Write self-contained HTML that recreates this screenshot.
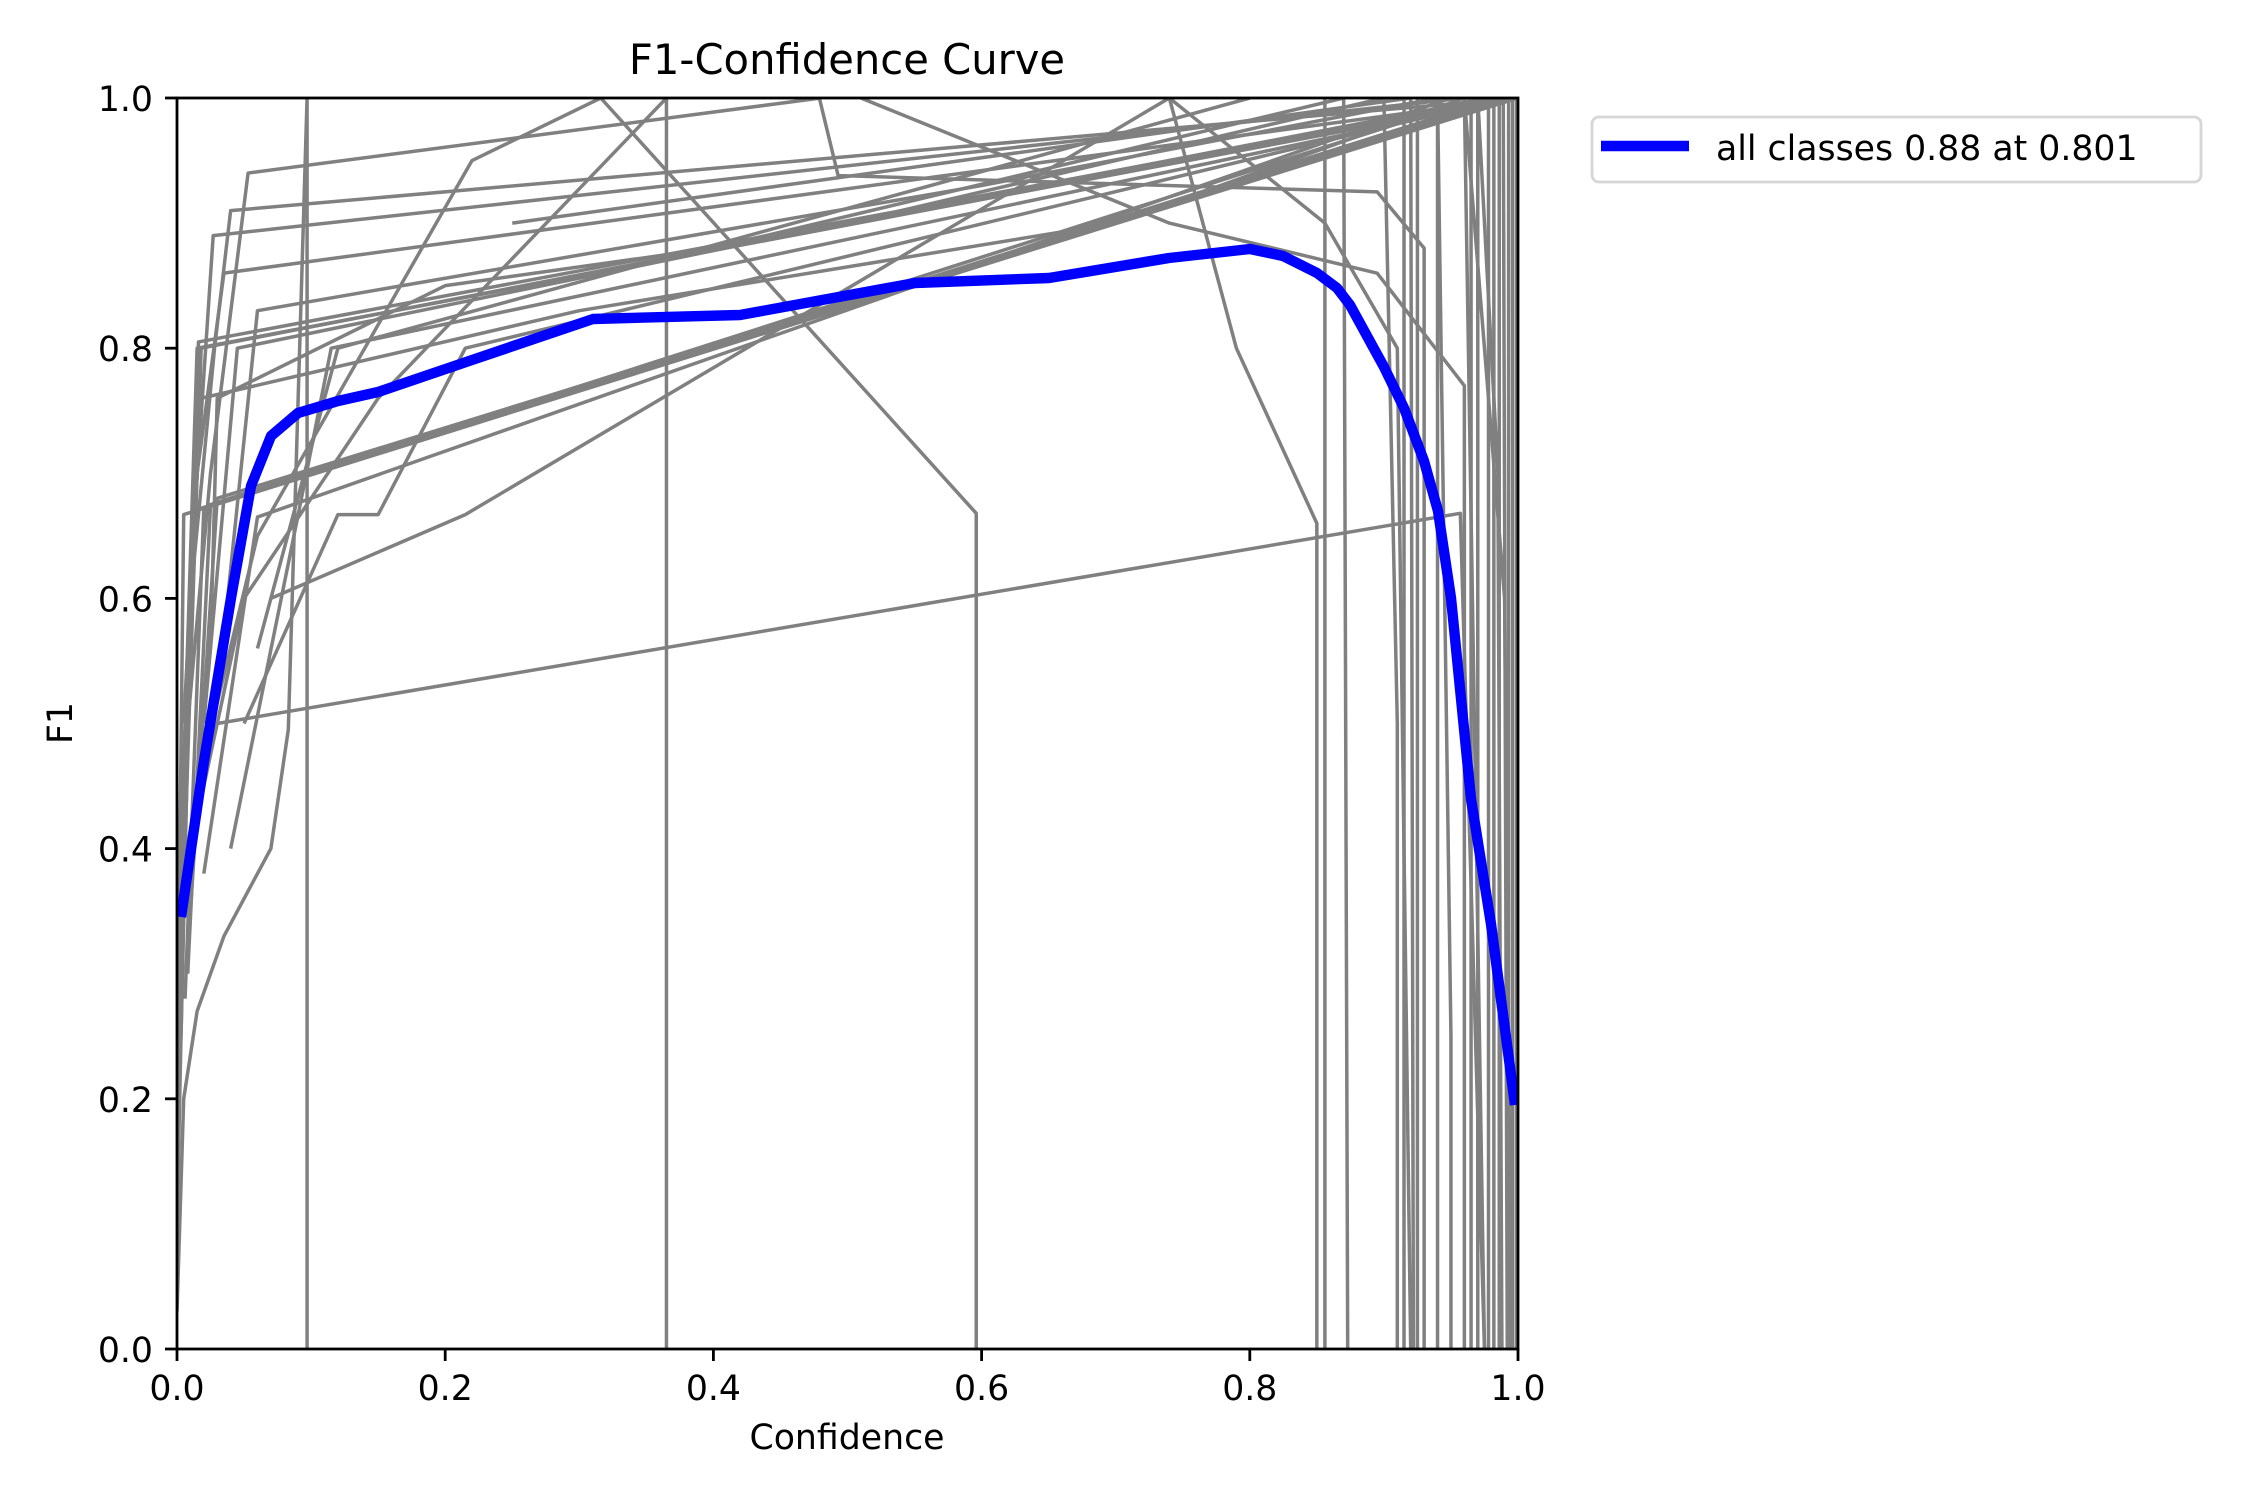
<!DOCTYPE html>
<html><head><meta charset="utf-8"><style>
html,body{margin:0;padding:0;background:#fff;}
svg{display:block;}
text{font-family:"DejaVu Sans","Liberation Sans",sans-serif;fill:#000;}
</style></head><body>
<svg width="2250" height="1500" viewBox="0 0 2250 1500" xmlns="http://www.w3.org/2000/svg">
<rect width="2250" height="1500" fill="#fff"/>
<defs><clipPath id="ax"><rect x="177" y="98" width="1341" height="1251"/></clipPath></defs>
<g clip-path="url(#ax)">
<g transform="translate(177,1349) scale(1.341,-1.251)" fill="none" stroke="#808080" stroke-width="3.5" vector-effect="non-scaling-stroke" stroke-linejoin="round">
<g style="vector-effect:non-scaling-stroke">
<polyline vector-effect="non-scaling-stroke" points="0,30 5,200 15,270 35,330 70,400 83,495 97,1000 97,0"/>
<polyline vector-effect="non-scaling-stroke" points="0,100 8,500 25,700 53,940 480,1000"/>
<polyline vector-effect="non-scaling-stroke" points="0,150 10,600 28,800 40,910 1000,1000"/>
<polyline vector-effect="non-scaling-stroke" points="0,200 12,650 27,890 960,1000"/>
<polyline vector-effect="non-scaling-stroke" points="0,250 15,700 35,860 1000,1000"/>
<polyline vector-effect="non-scaling-stroke" points="0,300 15,800 1000,1000"/>
<polyline vector-effect="non-scaling-stroke" points="2,320 16,805 990,1000"/>
<polyline vector-effect="non-scaling-stroke" points="4,340 18,800 980,1000"/>
<polyline vector-effect="non-scaling-stroke" points="0,200 5,667 1000,1000"/>
<polyline vector-effect="non-scaling-stroke" points="3,250 12,670 985,1000"/>
<polyline vector-effect="non-scaling-stroke" points="6,280 20,672 990,1000"/>
<polyline vector-effect="non-scaling-stroke" points="8,300 25,675 970,1000"/>
<polyline vector-effect="non-scaling-stroke" points="10,350 30,680 995,1000"/>
<polyline vector-effect="non-scaling-stroke" points="20,380 60,665 950,1000"/>
<polyline vector-effect="non-scaling-stroke" points="30,500 957,668 975,0"/>
<polyline vector-effect="non-scaling-stroke" points="40,400 90,665 115,800 1000,1000"/>
<polyline vector-effect="non-scaling-stroke" points="50,500 120,667 150,667 215,800 990,1000"/>
<polyline vector-effect="non-scaling-stroke" points="60,560 120,800 800,1000"/>
<polyline vector-effect="non-scaling-stroke" points="70,600 215,667 740,1000 790,800 850,660 850,0"/>
<polyline vector-effect="non-scaling-stroke" points="15,450 60,650 220,950 316,1000 596,668 596,0"/>
<polyline vector-effect="non-scaling-stroke" points="10,400 50,600 150,760 365,1000 365,0"/>
<polyline vector-effect="non-scaling-stroke" points="479,1000 493,938 895,925 930,880 930,0"/>
<polyline vector-effect="non-scaling-stroke" points="510,1000 740,900 895,860 960,770 960,0"/>
<polyline vector-effect="non-scaling-stroke" points="740,1000 856,900 910,800 920,0"/>
<polyline vector-effect="non-scaling-stroke" points="25,560 30,760 200,850 400,880 870,1000 873,0"/>
<polyline vector-effect="non-scaling-stroke" points="20,500 45,800 500,900 900,1000 910,500 910,0"/>
<polyline vector-effect="non-scaling-stroke" points="30,520 60,830 600,930 940,1000 950,250 950,0"/>
<polyline vector-effect="non-scaling-stroke" points="5,500 18,760 300,830 700,900 960,1000 975,0"/>
<polyline vector-effect="non-scaling-stroke" points="250,900 920,1000 922,0"/>
<polyline vector-effect="non-scaling-stroke" points="856,1000 856,0"/>
<polyline vector-effect="non-scaling-stroke" points="915,1000 915,0"/>
<polyline vector-effect="non-scaling-stroke" points="925,1000 925,0"/>
<polyline vector-effect="non-scaling-stroke" points="940,1000 940,0"/>
<polyline vector-effect="non-scaling-stroke" points="965,1000 965,0"/>
<polyline vector-effect="non-scaling-stroke" points="970,1000 970,0"/>
<polyline vector-effect="non-scaling-stroke" points="978,1000 978,0"/>
<polyline vector-effect="non-scaling-stroke" points="982,1000 982,0"/>
<polyline vector-effect="non-scaling-stroke" points="986,1000 986,0"/>
<polyline vector-effect="non-scaling-stroke" points="989,1000 992,0"/>
<polyline vector-effect="non-scaling-stroke" points="993,1000 993,0"/>
<polyline vector-effect="non-scaling-stroke" points="996,1000 996,0"/>
<polyline vector-effect="non-scaling-stroke" points="999,1000 999,0"/>
<polyline vector-effect="non-scaling-stroke" points="960,1000 990,600 995,0"/>
<polyline vector-effect="non-scaling-stroke" points="970,1000 985,700 988,0"/>
</g>
</g>
<polyline fill="none" stroke="#0000ff" stroke-width="10.4" stroke-linejoin="round" points="
181,917 204,761 231,598 251,486 271,436 298,413 338,401 378,392 472,360 593,319 740,315 915,283 1049,278 1169,258 1250,249 1283,256 1317,273 1337,288 1350,305 1384,367 1404,408 1424,461 1438,511 1451,598 1471,799 1491,924 1515,1105"/>
</g>
<rect x="177" y="98" width="1341" height="1251" fill="none" stroke="#000" stroke-width="2.8"/>
<g stroke="#000" stroke-width="2.8">
<line x1="177" y1="1349" x2="177" y2="1361"/><line x1="445.2" y1="1349" x2="445.2" y2="1361"/><line x1="713.4" y1="1349" x2="713.4" y2="1361"/><line x1="981.6" y1="1349" x2="981.6" y2="1361"/><line x1="1249.8" y1="1349" x2="1249.8" y2="1361"/><line x1="1518" y1="1349" x2="1518" y2="1361"/>
<line x1="165" y1="1349" x2="177" y2="1349"/><line x1="165" y1="1098.8" x2="177" y2="1098.8"/><line x1="165" y1="848.6" x2="177" y2="848.6"/><line x1="165" y1="598.4" x2="177" y2="598.4"/><line x1="165" y1="348.2" x2="177" y2="348.2"/><line x1="165" y1="98" x2="177" y2="98"/>
</g>
<g font-size="34.7" text-anchor="middle">
<text x="177" y="1400">0.0</text><text x="445.2" y="1400">0.2</text><text x="713.4" y="1400">0.4</text><text x="981.6" y="1400">0.6</text><text x="1249.8" y="1400">0.8</text><text x="1518" y="1400">1.0</text>
</g>
<g font-size="34.7" text-anchor="end">
<text x="153" y="1362">0.0</text><text x="153" y="1111.8">0.2</text><text x="153" y="861.6">0.4</text><text x="153" y="611.4">0.6</text><text x="153" y="361.2">0.8</text><text x="153" y="111">1.0</text>
</g>
<text x="847" y="1449" font-size="34.7" text-anchor="middle">Confidence</text>
<text transform="translate(72,723) rotate(-90)" font-size="34.7" text-anchor="middle">F1</text>
<text x="847" y="74" font-size="41.7" text-anchor="middle">F1-Confidence Curve</text>
<rect x="1592" y="117" width="609" height="65" rx="7" fill="#fff" stroke="#d6d6d6" stroke-width="2.8"/>
<line x1="1601" y1="146" x2="1689" y2="146" stroke="#0000ff" stroke-width="10.4"/>
<text x="1716" y="160" font-size="34.7">all classes 0.88 at 0.801</text>
</svg>
</body></html>
